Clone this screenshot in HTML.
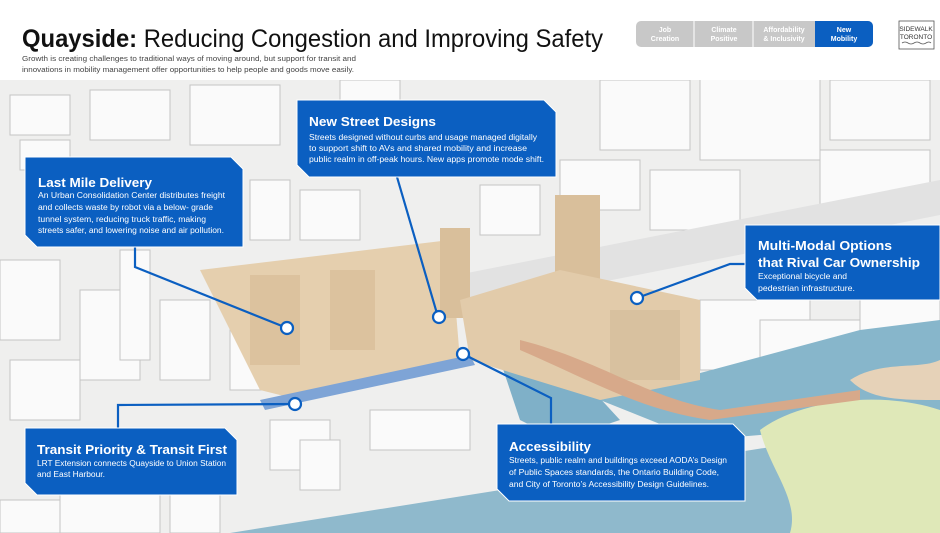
<!DOCTYPE html>
<html><head><meta charset="utf-8"><style>
html,body{margin:0;padding:0;background:#fff}
svg{display:block}
text{font-family:"Liberation Sans",sans-serif}
</style></head><body>
<svg width="940" height="533" viewBox="0 0 940 533" xmlns="http://www.w3.org/2000/svg">
<rect width="940" height="533" fill="#efefee"/>
<g fill="#fafafa" stroke="#c4c4c4" stroke-width="1">
<rect x="10" y="95" width="60" height="40"/><rect x="90" y="90" width="80" height="50"/><rect x="190" y="85" width="90" height="60"/>
<rect x="600" y="80" width="90" height="70"/><rect x="700" y="70" width="120" height="90"/><rect x="830" y="80" width="100" height="60"/>
<rect x="560" y="160" width="80" height="50"/><rect x="650" y="170" width="90" height="60"/><rect x="820" y="150" width="110" height="60"/>
<rect x="0" y="260" width="60" height="80"/><rect x="80" y="290" width="60" height="90"/><rect x="120" y="250" width="30" height="110"/>
<rect x="160" y="300" width="50" height="80"/><rect x="10" y="360" width="70" height="60"/><rect x="230" y="330" width="40" height="60"/>
<rect x="0" y="500" width="90" height="33"/><rect x="60" y="495" width="100" height="38"/><rect x="170" y="490" width="50" height="43"/>
<rect x="270" y="420" width="60" height="50"/><rect x="300" y="440" width="40" height="50"/><rect x="370" y="410" width="100" height="40"/>
<rect x="700" y="300" width="110" height="70"/><rect x="760" y="320" width="130" height="60"/><rect x="860" y="290" width="80" height="50"/>
<rect x="340" y="80" width="60" height="20"/><rect x="20" y="140" width="50" height="30"/><rect x="250" y="180" width="40" height="60"/>
<rect x="300" y="190" width="60" height="50"/><rect x="480" y="185" width="60" height="50"/>
</g>
<polygon points="330,300 940,180 940,215 360,330" fill="#e2e2e2"/>
<polygon points="230,533 940,420 940,533" fill="#8fb9cc"/>
<polygon points="500,360 560,355 620,420 560,440 520,420" fill="#7fb0c8"/>
<polygon points="600,400 860,330 940,320 940,420 700,440" fill="#87b6cb"/>
<path d="M760 430 C800 400 880 390 940 410 L940 533 L790 533 C800 500 770 470 760 430Z" fill="#dfe8b8"/>
<path d="M850 380 C880 360 920 370 940 360 L940 400 C900 400 870 400 850 380Z" fill="#e6d2b8"/>
<polygon points="200,270 450,240 460,360 300,400 260,390" fill="#e5cfae"/>
<rect x="250" y="275" width="50" height="90" fill="#dcc29e"/><rect x="330" y="270" width="45" height="80" fill="#dcc29e"/>
<rect x="440" y="228" width="30" height="90" fill="#d9bf9b"/><rect x="555" y="195" width="45" height="100" fill="#d9bf9b"/>
<polygon points="460,300 560,270 700,300 700,380 600,400 470,360" fill="#e2cbaa"/>
<rect x="610" y="310" width="70" height="70" fill="#d8c19f"/>
<path d="M520 340 C600 360 650 400 720 410 L860 390 L860 400 L710 420 C640 410 590 380 520 350Z" fill="#d7a98a"/>
<polygon points="260,400 470,355 475,365 265,410" fill="#7ea4d6"/>
<rect x="0" y="0" width="940" height="80" fill="#fff"/>
<text x="22" y="47" font-size="25" fill="#111" textLength="581" lengthAdjust="spacingAndGlyphs"><tspan font-weight="bold">Quayside:</tspan> Reducing Congestion and Improving Safety</text>
<text x="22" y="61" font-size="7" fill="#444" textLength="334" lengthAdjust="spacingAndGlyphs">Growth is creating challenges to traditional ways of moving around, but support for transit and</text>
<text x="22" y="72" font-size="7" fill="#444" textLength="332" lengthAdjust="spacingAndGlyphs">innovations in mobility management offer opportunities to help people and goods move easily.</text>
<rect x="636" y="21" width="237" height="26" rx="5" fill="#c8c8c8"/>
<rect x="815" y="21" width="58" height="26" rx="5" fill="#0b5fc1"/><rect x="815" y="21" width="8" height="26" fill="#0b5fc1"/>
<line x1="694" y1="21" x2="694" y2="47" stroke="#fff"/><line x1="753" y1="21" x2="753" y2="47" stroke="#fff"/>
<g font-size="7" font-weight="bold" fill="#fff" text-anchor="middle">
<text x="665" y="32">Job</text><text x="665" y="41">Creation</text>
<text x="724" y="32">Climate</text><text x="724" y="41">Positive</text>
<text x="784" y="32">Affordability</text><text x="784" y="41">&amp; Inclusivity</text>
<text x="844" y="32">New</text><text x="844" y="41">Mobility</text>
</g>
<rect x="899" y="21" width="35" height="28" fill="#fff" stroke="#555" stroke-width="0.8"/>
<text x="916" y="31" font-size="6.5" text-anchor="middle" fill="#333">SIDEWALK</text>
<text x="916" y="39" font-size="6.5" text-anchor="middle" fill="#333">TORONTO</text>
<path d="M902 43 q3 -2 6 0 t6 0 t6 0 t6 0 t5 0" stroke="#555" fill="none" stroke-width="0.8"/>
<g stroke="#0b5fc1" stroke-width="2.2" fill="none">
<polyline points="135,247 135,267 287,328"/>
<polyline points="397,177 438,317"/>
<polyline points="295,404 118,405 118,428"/>
<polyline points="463,354 551,398 551,424"/>
<polyline points="637,298 730,264 745,264"/>
</g>
<g fill="#fff" stroke="#0b5fc1" stroke-width="2.2">
<circle cx="287" cy="328" r="6"/><circle cx="439" cy="317" r="6"/><circle cx="463" cy="354" r="6"/>
<circle cx="295" cy="404" r="6"/><circle cx="637" cy="298" r="6"/>
</g>
<g fill="#0b5fc1" stroke="#fff" stroke-width="1">
<polygon points="25,157 231,157 243,169 243,247 37,247 25,235"/>
<polygon points="297,100 544,100 556,112 556,177 309,177 297,165"/>
<polygon points="745,225 940,225 940,300 757,300 745,288"/>
<polygon points="25,428 225,428 237,440 237,495 37,495 25,483"/>
<polygon points="497,424 733,424 745,436 745,501 509,501 497,489"/>
</g>
<g fill="#fff">
<text x="38" y="187" font-size="12.5" font-weight="bold" textLength="114" lengthAdjust="spacingAndGlyphs">Last Mile Delivery</text>
<g font-size="8">
<text x="38" y="198" textLength="187" lengthAdjust="spacingAndGlyphs">An Urban Consolidation Center distributes freight</text>
<text x="38" y="210" textLength="175" lengthAdjust="spacingAndGlyphs">and collects waste by robot via a below- grade</text>
<text x="38" y="222" textLength="168" lengthAdjust="spacingAndGlyphs">tunnel system, reducing truck traffic, making</text>
<text x="38" y="233" textLength="186" lengthAdjust="spacingAndGlyphs">streets safer, and lowering noise and air pollution.</text></g>
<text x="309" y="126" font-size="12.5" font-weight="bold" textLength="127" lengthAdjust="spacingAndGlyphs">New Street Designs</text>
<g font-size="8">
<text x="309" y="140" textLength="228" lengthAdjust="spacingAndGlyphs">Streets designed without curbs and usage managed digitally</text>
<text x="309" y="151" textLength="218" lengthAdjust="spacingAndGlyphs">to support shift to AVs and shared mobility and increase</text>
<text x="309" y="162" textLength="235" lengthAdjust="spacingAndGlyphs">public realm in off-peak hours. New apps promote mode shift.</text></g>
<text x="758" y="250" font-size="12.5" font-weight="bold" textLength="134" lengthAdjust="spacingAndGlyphs">Multi-Modal Options</text>
<text x="758" y="267" font-size="12.5" font-weight="bold" textLength="162" lengthAdjust="spacingAndGlyphs">that Rival Car Ownership</text>
<g font-size="8"><text x="758" y="279" textLength="89" lengthAdjust="spacingAndGlyphs">Exceptional bicycle and</text>
<text x="758" y="291" textLength="97" lengthAdjust="spacingAndGlyphs">pedestrian infrastructure.</text></g>
<text x="37" y="454" font-size="12.5" font-weight="bold" textLength="190" lengthAdjust="spacingAndGlyphs">Transit Priority &amp; Transit First</text>
<g font-size="8"><text x="37" y="466" textLength="189" lengthAdjust="spacingAndGlyphs">LRT Extension connects Quayside to Union Station</text>
<text x="37" y="477" textLength="68" lengthAdjust="spacingAndGlyphs">and East Harbour.</text></g>
<text x="509" y="451" font-size="12.5" font-weight="bold" textLength="82" lengthAdjust="spacingAndGlyphs">Accessibility</text>
<g font-size="8"><text x="509" y="463" textLength="218" lengthAdjust="spacingAndGlyphs">Streets, public realm and buildings exceed AODA’s Design</text>
<text x="509" y="475" textLength="210" lengthAdjust="spacingAndGlyphs">of Public Spaces standards, the Ontario Building Code,</text>
<text x="509" y="487" textLength="200" lengthAdjust="spacingAndGlyphs">and City of Toronto’s Accessibility Design Guidelines.</text></g>
</g>
</svg>
</body></html>
